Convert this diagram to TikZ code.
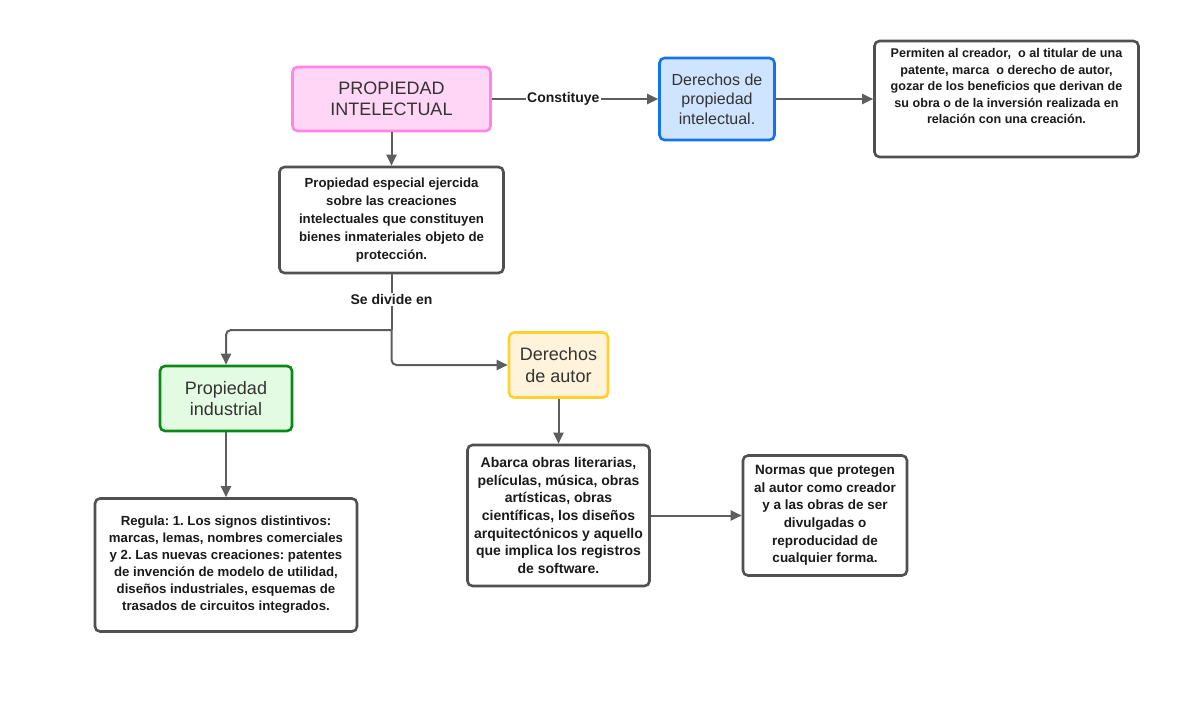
\documentclass[tikz,border=0pt]{standalone}
\usepackage{fontspec}
\setmainfont{Liberation Sans}
\frenchspacing
\usetikzlibrary{arrows.meta}
\definecolor{edgec}{HTML}{5E5E5E}
\definecolor{boxline}{HTML}{505050}
\definecolor{txt}{HTML}{1A1A1A}
\definecolor{bigtxt}{HTML}{333333}
\definecolor{pinkline}{HTML}{FF85E2}
\definecolor{pinkfill}{HTML}{FFD6F6}
\definecolor{blueline}{HTML}{1473E6}
\definecolor{bluefill}{HTML}{CFE4FF}
\definecolor{greenline}{HTML}{0A8A14}
\definecolor{greenfill}{HTML}{E3FAE3}
\definecolor{yelline}{HTML}{FFD12E}
\definecolor{yelfill}{HTML}{FFF3DB}
\tikzset{
  box/.style={draw=boxline, line width=2.6pt, rounded corners=5pt, fill=white,
    inner sep=0pt, align=center, text=txt},
  cbox/.style={line width=2.6pt, rounded corners=5pt, inner sep=0pt,
    align=center, text=bigtxt},
  conn/.style={draw=edgec, line width=2pt, -{Triangle[length=11pt,width=10pt]}},
  plain/.style={draw=edgec, line width=2pt},
  lbl/.style={fill=white, inner sep=1pt, text=txt, font={\fontsize{14}{17}\selectfont\bfseries}},
}
\begin{document}
\begin{tikzpicture}[x=1pt,y=-1pt]
\useasboundingbox[fill=white] (0,0) rectangle (1200,709);

% nodes
\node[cbox, draw=pinkline, fill=pinkfill, minimum width=198, minimum height=64,
  font={\fontsize{18}{21}\selectfont}] (pi) at (391.5,99) {PROPIEDAD\\INTELECTUAL};
\node[cbox, draw=blueline, fill=bluefill, minimum width=115, minimum height=82,
  font={\fontsize{16}{19.5}\selectfont}] (dpi) at (717,99) {Derechos de\\propiedad\\intelectual.};
\node[box, minimum width=264, minimum height=116] (perm) at (1006.5,99) {};
\node[text=txt, align=center, inner sep=0pt,
  font={\fontsize{12.6}{16.5}\selectfont\bfseries}] (permtxt) at (1006.5,86)
  {Permiten al creador,\ \ o al titular de una\\patente, marca\ \ o derecho de autor,\\gozar de los beneficios que derivan de\\su obra o de la inversión realizada en\\relación con una creación.};
\node[box, minimum width=224, minimum height=106,
  font={\fontsize{13.2}{18}\selectfont\bfseries}] (pe) at (391.5,220)
  {Propiedad especial ejercida\\sobre las creaciones\\intelectuales que constituyen\\bienes inmateriales objeto de\\protección.};
\node[cbox, draw=greenline, fill=greenfill, minimum width=132, minimum height=65,
  font={\fontsize{18}{21.5}\selectfont}] (pind) at (226,398.5) {Propiedad\\industrial};
\node[cbox, draw=yelline, fill=yelfill, minimum width=99, minimum height=65,
  font={\fontsize{18}{22}\selectfont}] (da) at (558.5,365) {Derechos\\de autor};
\node[box, minimum width=262, minimum height=133,
  font={\fontsize{13.2}{17}\selectfont\bfseries}] (reg) at (226,565)
  {Regula: 1. Los signos distintivos:\\marcas, lemas, nombres comerciales\\y 2. Las nuevas creaciones: patentes\\de invención de modelo de utilidad,\\diseños industriales, esquemas de\\trasados de circuitos integrados.};
\node[box, minimum width=182, minimum height=141,
  font={\fontsize{14}{17.7}\selectfont\bfseries}] (ab) at (558.5,515.5)
  {Abarca obras literarias,\\películas, música, obras\\artísticas, obras\\científicas, los diseños\\arquitectónicos y aquello\\que implica los registros\\de software.};
\node[box, minimum width=164, minimum height=120,
  font={\fontsize{13.5}{17.7}\selectfont\bfseries}] (nor) at (825,515.5)
  {Normas que protegen\\al autor como creador\\y a las obras de ser\\divulgadas o\\reproducidad de\\cualquier forma.};

% connectors
\draw[conn] (pi.east) -- node[lbl, pos=0.43] (cons) {Constituye} (dpi.west);
\draw[conn] (dpi.east) -- (perm.west);
\draw[conn] (pi.south) -- (pe.north);
\coordinate (jn) at (391.5,330);
\coordinate (jr) at (391.5,365);
\draw[plain] (pe.south) -- node[lbl, pos=0.45] (div) {Se divide en} (jn);
\draw[conn, rounded corners=5pt] (jn) -| (pind.north);
\draw[conn, rounded corners=5pt] (jn) -- (jr) -- (da.west);
\draw[conn] (pind.south) -- (reg.north);
\draw[conn] (da.south) -- (ab.north);
\draw[conn] (ab.east) -- (nor.west);
\end{tikzpicture}
\end{document}
